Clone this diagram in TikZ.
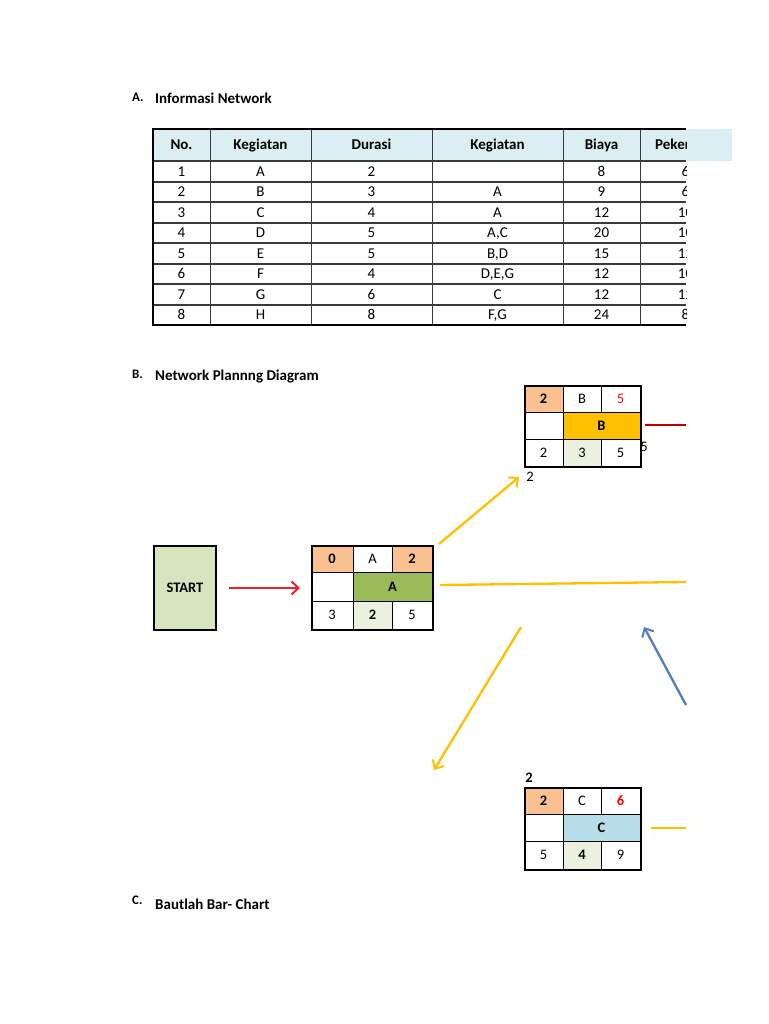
\documentclass[tikz,border=0pt]{standalone}
\usepackage{fontspec}
\setmainfont{Carlito}
\usetikzlibrary{arrows.meta}
\definecolor{hdr}{HTML}{DAEEF3}
\definecolor{ora}{HTML}{FAC090}
\definecolor{grn}{HTML}{9BBB59}
\definecolor{startc}{HTML}{D7E4BD}
\definecolor{lite}{HTML}{EBF1DE}
\definecolor{gold}{HTML}{FFC000}
\definecolor{cblue}{HTML}{B7DEE8}
\definecolor{ared}{HTML}{E8202A}
\definecolor{dred}{HTML}{C00000}
\definecolor{ablue}{HTML}{4F81BD}
\definecolor{tline}{HTML}{3A3A3A}
\tikzset{
  txt/.style={inner sep=0pt, text height=9.7pt, text depth=0pt, font=\fontsize{15}{17}\selectfont},
  btxt/.style={inner sep=0pt, text height=9.7pt, text depth=0pt, font=\fontsize{15}{17}\selectfont\bfseries},
  bxt/.style={inner sep=0pt, text height=9.3pt, text depth=0pt, font=\fontsize{14.5}{17}\selectfont},
  bbxt/.style={inner sep=0pt, text height=9.3pt, text depth=0pt, font=\fontsize{14.5}{17}\selectfont\bfseries},
  head/.style={inner sep=0pt, anchor=west, text height=9.7pt, text depth=0pt, font=\fontsize{15}{17}\selectfont\bfseries},
  sec/.style={inner sep=0pt, anchor=west, text height=8.4pt, text depth=0pt, font=\fontsize{13}{15}\selectfont\bfseries},
  grid/.style={draw=black, line width=0.9pt},
  outer/.style={draw=black, line width=2pt, inner sep=0pt, anchor=north west},
  barb/.style={-{Straight Barb[length=7pt,width=13pt,line width=2pt]}},
  conn/.style={line width=2.3pt},
}
\begin{document}
\begin{tikzpicture}[x=1pt,y=-1pt]
\useasboundingbox (0,0) rectangle (768,1024);
\fill[white] (0,0) rectangle (768,1024);

% ---------- Section A ----------
\node[sec] (secA) at (132,97) {A.};
\node[head] (titleA) at (155,99) {Informasi Network};

\fill[hdr] (153,129) rectangle (732,161);
% horizontal lines
\foreach \y in {161,182,202,223,243,264,284,305}
  \draw[tline, line width=1.1pt] (153,\y) -- (686,\y);
% vertical lines
\foreach \x in {210,311,432,563,640}
  \draw[tline, line width=1pt] (\x,129) -- (\x,325);
% thick outer
\draw[black, line width=2.2pt] (686,129) -- (153,129) -- (153,325) -- (686,325);

\node[btxt] (h1) at (181.5,145) {No.};
\node[btxt] (h2) at (260.5,145) {Kegiatan};
\node[btxt] (h3) at (371.5,145) {Durasi};
\node[btxt] (h4) at (497.5,145) {Kegiatan};
\node[btxt] (h5) at (601.5,145) {Biaya};
\begin{scope}
  \clip (640,129) rectangle (686,325);
  \node[btxt, anchor=west] (h6) at (655,145) {Pekerjaan};
  \foreach \i/\v/\yy in {1/6/171.5,2/6/192,3/10/212.5,4/10/233,5/12/253.5,6/10/274,7/12/294.5,8/8/315}
    \node[txt] (r\i c6) at (685.5,\yy) {\v};
\end{scope}

\foreach \i/\k/\d/\p/\b/\yy in {
  1/A/2//8/171.5,
  2/B/3/A/9/192,
  3/C/4/A/12/212.5,
  4/D/5/{A,C}/20/233,
  5/E/5/{B,D}/15/253.5,
  6/F/4/{D,E,G}/12/274,
  7/G/6/C/12/294.5,
  8/H/8/{F,G}/24/315}{
  \node[txt] (r\i c1) at (181.5,\yy) {\i};
  \node[txt] (r\i c2) at (260.5,\yy) {\k};
  \node[txt] (r\i c3) at (371.5,\yy) {\d};
  \node[txt] (r\i c4) at (497.5,\yy) {\p};
  \node[txt] (r\i c5) at (601.5,\yy) {\b};
}

% ---------- Section B ----------
\node[sec] (secB) at (132,374) {B.};
\node[head] (titleB) at (155,376) {Network Plannng Diagram};

% START
\node[outer, fill=startc, minimum width=62, minimum height=84] (start) at (153,545) {};
\node[bbxt] (starttxt) at (start.center) {START};

% Box A
\fill[ora] (311,545) rectangle (353,572);
\fill[ora] (392,545) rectangle (432,572);
\fill[grn] (353,572) rectangle (432,601);
\fill[lite] (353,601) rectangle (392,629);
\draw[grid] (311,572) -- (432,572) (311,601) -- (432,601)
  (353,545) -- (353,629) (392,545) -- (392,572) (392,601) -- (392,629);
\node[outer, minimum width=121, minimum height=84] (A) at (311,545) {};
\node[bbxt] (A11) at (332,558.5) {0};
\node[bxt] (A12) at (372.5,558.5) {A};
\node[bbxt] (A13) at (412,558.5) {2};
\node[bbxt] (A22) at (392.5,586.5) {A};
\node[bxt] (A31) at (332,615) {3};
\node[bbxt] (A32) at (372.5,615) {2};
\node[bxt] (A33) at (412,615) {5};

% Box B
\fill[ora] (524,385) rectangle (563,412);
\fill[gold] (563,412) rectangle (640,439);
\fill[lite] (563,439) rectangle (601,466);
\draw[grid] (524,412) -- (640,412) (524,439) -- (640,439)
  (563,385) -- (563,466) (601,385) -- (601,412) (601,439) -- (601,466);
\node[outer, minimum width=116, minimum height=81] (B) at (524,385) {};
\node[bbxt] (B11) at (543.5,398.5) {2};
\node[bxt] (B12) at (582,398.5) {B};
\node[bxt, text=red] (B13) at (620.5,398.5) {5};
\node[bbxt] (B22) at (601.5,425.5) {B};
\node[bxt] (B31) at (543.5,452.5) {2};
\node[bxt] (B32) at (582,452.5) {3};
\node[bxt] (B33) at (620.5,452.5) {5};
\node[bxt] (Blab5) at (644,447) {5};
\node[bxt] (Blab2) at (530,477) {2};

% Box C
\fill[ora] (524,787) rectangle (563,814);
\fill[cblue] (563,814) rectangle (640,841);
\fill[lite] (563,841) rectangle (601,869);
\draw[grid] (524,814) -- (640,814) (524,841) -- (640,841)
  (563,787) -- (563,869) (601,787) -- (601,814) (601,841) -- (601,869);
\node[outer, minimum width=116, minimum height=82] (C) at (524,787) {};
\node[bbxt] (C11) at (543.5,800.5) {2};
\node[bxt] (C12) at (582,800.5) {C};
\node[bbxt, text=red] (C13) at (620.5,800.5) {6};
\node[bbxt] (C22) at (601.5,827.5) {C};
\node[bxt] (C31) at (543.5,855) {5};
\node[bbxt] (C32) at (582,855) {4};
\node[bxt] (C33) at (620.5,855) {9};
\node[bbxt] (Clab2) at (529,778) {2};

% connectors
\coordinate (redL) at (645,425);
\coordinate (redR) at (686,425);
\draw[dred, conn] (redL) -- (redR);

\draw[ared, conn, barb] (start.east) ++(12,0) coordinate (startR) -- ([xshift=-11]A.west);

\coordinate (abS) at (439,544);
\coordinate (abE) at (519,477);
\draw[gold, conn, barb] (abS) -- (abE);

\coordinate (ylS) at (440,585);
\coordinate (ylE) at (686,582);
\draw[gold, conn] (ylS) -- (ylE);

\coordinate (ydS) at (521,627);
\coordinate (ydE) at (434,770);
\draw[gold, conn, barb] (ydS) -- (ydE);

\coordinate (buS) at (686,705);
\coordinate (buE) at (644,627);
\draw[ablue, conn, barb] (buS) -- (buE);

\coordinate (ycS) at (651,828);
\coordinate (ycE) at (686,828);
\draw[gold, conn] (ycS) -- (ycE);

% ---------- Section C ----------
\node[sec] (secC) at (132,900) {C.};
\node[head] (titleC) at (155,905) {Bautlah Bar- Chart};
\end{tikzpicture}
\end{document}
